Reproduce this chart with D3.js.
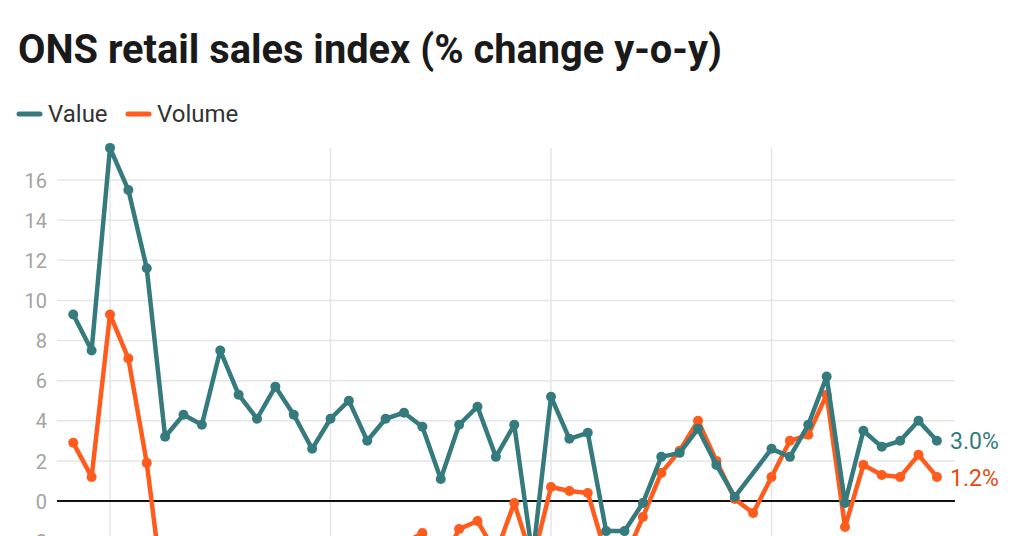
<!DOCTYPE html>
<html>
<head>
<meta charset="utf-8">
<script src="https://cdn.jsdelivr.net/npm/d3@7"></script>
<style>
  html, body { margin: 0; padding: 0; background: #fff; overflow: hidden; }
  svg { display: block; }
</style>
</head>
<body>
<div id="chart"></div>
<script>
// Months Nov 2021 .. Oct 2025
const months = ["Nov 21","Dec 21","Jan 22","Feb 22","Mar 22","Apr 22","May 22","Jun 22","Jul 22","Aug 22","Sep 22","Oct 22","Nov 22","Dec 22",
  "Jan 23","Feb 23","Mar 23","Apr 23","May 23","Jun 23","Jul 23","Aug 23","Sep 23","Oct 23","Nov 23","Dec 23",
  "Jan 24","Feb 24","Mar 24","Apr 24","May 24","Jun 24","Jul 24","Aug 24","Sep 24","Oct 24","Nov 24","Dec 24",
  "Jan 25","Feb 25","Mar 25","Apr 25","May 25","Jun 25","Jul 25","Aug 25","Sep 25","Oct 25"];
const valueSeries = [9.3, 7.5, 17.6, 15.5, 11.6, 3.2, 4.3, 3.8, 7.5, 5.3, 4.1, 5.7, 4.3, 2.6,
  4.1, 5.0, 3.0, 4.1, 4.4, 3.7, 1.1, 3.8, 4.7, 2.2, 3.8, -2.8,
  5.2, 3.1, 3.4, -1.5, -1.5, -0.1, 2.2, 2.4, 3.6, 1.8, 0.2, null,
  2.6, 2.2, 3.8, 6.2, -0.1, 3.5, 2.7, 3.0, 4.0, 3.0];
const volumeSeries = [2.9, 1.2, 9.3, 7.1, 1.9, -5.4, -4.7, -5.8, -3.4, -5.4, -6.9, -6.1, -5.9, -5.8,
  -5.1, -3.5, -3.1, -3.0, -2.1, -1.6, -3.2, -1.4, -1.0, -2.6, -0.1, -3.0,
  0.7, 0.5, 0.4, -2.7, -2.9, -0.8, 1.4, 2.5, 4.0, 2.0, 0.1, -0.6,
  1.2, 3.0, 3.3, 5.3, -1.3, 1.8, 1.3, 1.2, 2.3, 1.2];
const yTicks = [-2, 0, 2, 4, 6, 8, 10, 12, 14, 16];
const yearStarts = ["Jan 22", "Jan 23", "Jan 24", "Jan 25"];
const seriesNames = ["Value", "Volume"];
const endLabels = ["3.0%", "1.2%"];

const W = 1024, H = 720;
const teal = "#357b7e", orange = "#ff5b1c", orangeText = "#e24c12";

const svg = d3.select("#chart").append("svg").attr("width", W).attr("height", H);

const x = d3.scaleLinear().domain([0, months.length - 1]).range([73.25, 936.9]);
const y = d3.scaleLinear().domain([0, 16]).range([501, 180]);

// Title
svg.append("text").attr("x", 18).attr("y", 63)
  .attr("font-family", "Roboto, sans-serif").attr("font-weight", 700)
  .attr("font-size", 40).attr("fill", "#1a1a1a")
  .attr("textLength", 704).attr("lengthAdjust", "spacingAndGlyphs")
  .text("ONS retail sales index (% change y-o-y)");

// Legend
const legend = svg.append("g");
const legendX = [17, 126];
seriesNames.forEach((n, i) => {
  const c = i === 0 ? teal : orange;
  legend.append("line").attr("x1", legendX[i] + 2).attr("x2", legendX[i] + 23)
    .attr("y1", 114).attr("y2", 114).attr("stroke", c)
    .attr("stroke-width", 5).attr("stroke-linecap", "round");
  legend.append("text").attr("x", legendX[i] + 31).attr("y", 122)
    .attr("font-family", "Roboto, sans-serif").attr("font-size", 24)
    .attr("fill", "#333").text(n);
});

// Horizontal gridlines
const grid = svg.append("g");
grid.selectAll("line.h").data(yTicks.filter(d => d !== 0)).join("line")
  .attr("x1", 57).attr("x2", 955)
  .attr("y1", d => y(d)).attr("y2", d => y(d))
  .attr("stroke", "#e6e6e6").attr("stroke-width", 1.5);

// Vertical gridlines at year starts
grid.selectAll("line.v").data(yearStarts).join("line")
  .attr("x1", d => x(months.indexOf(d))).attr("x2", d => x(months.indexOf(d)))
  .attr("y1", 148).attr("y2", H)
  .attr("stroke", "#e6e6e6").attr("stroke-width", 1.5);

// Y axis labels
const yAxis = d3.axisLeft(y).tickValues(yTicks).tickSize(0).tickPadding(0).tickFormat(d3.format("d"));
const ya = svg.append("g").attr("transform", "translate(47,0)").call(yAxis);
ya.select(".domain").remove();
ya.selectAll("text").attr("font-family", "Roboto, sans-serif").attr("font-size", 20)
  .attr("fill", "#a3a3a3").attr("dy", "0.36em");

// Zero line
svg.append("line").attr("x1", 57).attr("x2", 955).attr("y1", y(0)).attr("y2", y(0))
  .attr("stroke", "#111").attr("stroke-width", 1.8);

// Lines
const series = [
  { name: "Value", vals: valueSeries, color: teal },
  { name: "Volume", vals: volumeSeries, color: orange }
];
const line = d3.line().x(d => x(d.i)).y(d => y(d.v));

[series[1], series[0]].forEach(s => {
  const pts = s.vals.map((v, i) => ({ i, v })).filter(d => d.v !== null);
  svg.append("path").datum(pts).attr("d", line)
    .attr("fill", "none").attr("stroke", s.color).attr("stroke-width", 4.5)
    .attr("stroke-linejoin", "round").attr("stroke-linecap", "round");
  svg.append("g").selectAll("circle").data(pts).join("circle")
    .attr("cx", d => x(d.i)).attr("cy", d => y(d.v)).attr("r", 5)
    .attr("fill", s.color);
});

// End labels
const lastI = months.length - 1;
svg.append("text").attr("x", 950).attr("y", y(valueSeries[lastI]) + 8)
  .attr("font-family", "Roboto, sans-serif").attr("font-size", 23)
  .attr("fill", teal).text(endLabels[0]);
svg.append("text").attr("x", 950).attr("y", y(volumeSeries[lastI]) + 9)
  .attr("font-family", "Roboto, sans-serif").attr("font-size", 23)
  .attr("fill", orangeText).text(endLabels[1]);
</script>
</body>
</html>
